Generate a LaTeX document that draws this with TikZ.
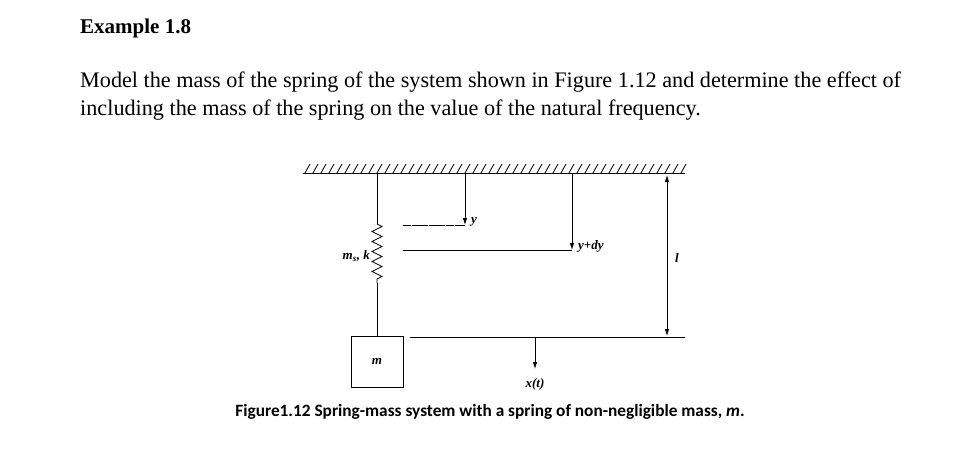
\documentclass[tikz,border=0pt]{standalone}
\usepackage{fontspec}
\setmainfont{Liberation Serif}
\newfontfamily\capfont{Carlito}
\usetikzlibrary{decorations.pathmorphing,arrows.meta}
\begin{document}
\begin{tikzpicture}[x=1pt,y=-1pt,
  ln/.style={line width=0.8pt},
  arr/.style={ln,-{Latex[length=7pt,width=4.5pt]}},
  lbl/.style={inner sep=1pt,font=\fontsize{13}{15}\selectfont\bfseries\itshape}]
\useasboundingbox (0,0) rectangle (956,452);
\node[anchor=base west,inner sep=0,font=\fontsize{21}{24}\selectfont\bfseries] (title) at (80,34) {Example 1.8};
\node[anchor=base west,inner sep=0,font=\fontsize{22.2}{26}\selectfont] (p1) at (80,88) {Model the mass of the spring of the system shown in Figure 1.12 and determine the effect of};
\node[anchor=base west,inner sep=0,font=\fontsize{22.2}{26}\selectfont] (p2) at (80,115) {including the mass of the spring on the value of the natural frequency.};
% ceiling
\coordinate (cl) at (303,173); \coordinate (cr) at (685,173);
\draw[ln] (cl) -- (cr);
\foreach \i in {0,...,47} \draw[line width=0.8pt] (305+\i*8,173) -- ++(5,-9);
% spring
\coordinate (s0) at (377,173); \coordinate (s1) at (377,224); \coordinate (s2) at (377,283);
\node[draw,ln,minimum width=52pt,minimum height=51pt,anchor=north] (m) at (377,336) {};
\node[lbl] at (m.center) {m};
\draw[ln] (s0) -- (s1);
\draw[ln,decorate,decoration={zigzag,segment length=10pt,amplitude=5pt}] (s1) -- (s2);
\draw[ln] (s2) -- (m.north);
\node[lbl,anchor=east] (ms) at (371,256) {m\textsubscript{s}, k};
% y
\coordinate (ya) at (465,173); \coordinate (yb) at (465,225);
\draw[arr] (ya) -- (yb);
\coordinate (yl) at (403,225);
\draw[ln,dash pattern=on 8pt off 0.6pt] (yl) -- (yb);
\node[lbl,anchor=west] (ylab) at (470,222) {y};
% y+dy
\coordinate (da) at (572,173); \coordinate (db) at (572,250);
\draw[arr] (da) -- (db);
\coordinate (dl) at (403,250);
\draw[ln] (dl) -- (db);
\node[lbl,anchor=west] (dylab) at (577,246) {y+dy};
% bottom line
\coordinate (bl) at (410,337); \coordinate (br) at (685,337);
\draw[ln] (bl) -- (br);
\coordinate (xa) at (535,337); \coordinate (xb) at (535,369);
\draw[arr] (xa) -- (xb);
\node[lbl] (xt) at (535,384) {x(t)};
% l
\coordinate (la) at (667,175); \coordinate (lb) at (667,336);
\draw[ln,{Latex[length=7pt,width=4.5pt]}-{Latex[length=7pt,width=4.5pt]}] (la) -- (lb);
\node[lbl] (l) at (677,258) {l};
% caption
\node[inner sep=0,font=\capfont\fontsize{17.3}{20}\selectfont\bfseries] (cap) at (490,412) {Figure1.12 Spring-mass system with a spring of non-negligible mass, \textit{m}.};
\end{tikzpicture}
\end{document}
